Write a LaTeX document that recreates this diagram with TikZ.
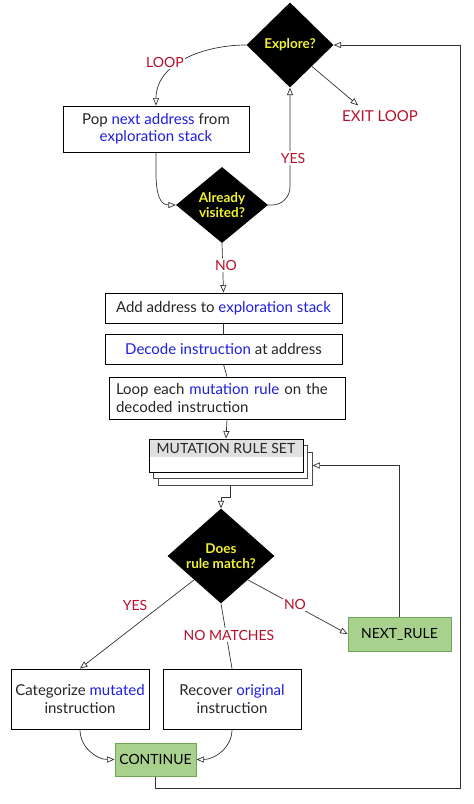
\documentclass[tikz,border=0pt]{standalone}
\usepackage{fontspec}
\setmainfont{Lato}
\usetikzlibrary{arrows}
\usetikzlibrary{shapes.geometric,shadows}
\definecolor{lblred}{HTML}{B8102A}
\definecolor{wordblue}{HTML}{1F1FE0}
\definecolor{askyellow}{HTML}{F2F230}
\definecolor{rulegreen}{HTML}{A9D18E}
\definecolor{rulegreenedge}{HTML}{6FA55A}
\newcommand{\bw}[1]{\textcolor{wordblue}{#1}}

\begin{document}
\begin{tikzpicture}[x=1pt,y=-1pt,
  font=\fontsize{15}{17.5}\selectfont,
  task/.style={draw=black, line width=1pt, fill=white, align=center, inner sep=0pt, text=black!85},
  ask/.style={diamond, fill=black, text=askyellow, align=center, inner sep=0pt, font=\fontsize{13.5}{15.5}\selectfont\bfseries},
  tag/.style={text=lblred, fill=white, inner sep=1.5pt, font=\fontsize{14}{16}\selectfont},
  jump/.style={draw=rulegreenedge, fill=rulegreen, line width=1pt, inner sep=0pt, font=\fontsize{14}{16}\selectfont},
  flow/.style={draw=black!80, line width=.7pt},
  >=open triangle 45]
\useasboundingbox (0,0) rectangle (474,804);
\node[ask, minimum width=87pt, minimum height=85pt] (ex) at (290,45) {Explore?};
\node[task, minimum width=186pt, minimum height=46pt] (pop) at (156,129) {Pop \bw{next address} from\\\bw{exploration stack}};
\node[ask, minimum width=92pt, minimum height=76pt] (av) at (222,205) {Already\\visited?};
\node[text=lblred, font=\fontsize{15}{17}\selectfont, inner sep=0pt] (exit) at (380,116) {EXIT LOOP};
\node[task, minimum width=237pt, minimum height=30pt] (add) at (223.5,308) {Add address to \bw{exploration stack}};
\node[task, minimum width=237pt, minimum height=30pt] (dec) at (223.5,349) {\bw{Decode instruction} at address};
\node[task, minimum width=236pt, minimum height=42pt, text width=222pt, align=left] (each) at (227,398) {Loop each \bw{mutation rule} on the\\decoded instruction};
\node[task, double copy shadow={shadow xshift=4.5pt, shadow yshift=-6.5pt, draw=black!70, fill=white, line width=.7pt},
  minimum width=154pt, text height=12pt, text depth=16pt, inner ysep=2.5pt,
  path picture={\fill[black!12] (path picture bounding box.north west) rectangle ([yshift=-18pt]path picture bounding box.north east);},
  font=\fontsize{14}{16}\selectfont] (mrs) at (226,455.5) {MUTATION RULE SET};
\node[ask, minimum width=107pt, minimum height=93pt] (drm) at (221,556) {Does\\rule match?};
\node[jump, minimum width=103pt, minimum height=34pt] (next) at (399.5,634) {NEXT\_RULE};
\node[task, minimum width=138pt, minimum height=60pt] (cat) at (80,699) {Categorize \bw{mutated}\\instruction};
\node[task, minimum width=138pt, minimum height=60pt] (rec) at (232,699) {Recover \bw{original}\\instruction};
\node[jump, minimum width=81pt, minimum height=33pt] (cont) at (155.5,759.5) {CONTINUE};
\coordinate (corner) at (460,788);

\draw[flow,->] (ex.west) to[out=180,in=90] (pop.north);
\draw[flow,->] (pop.south) to[out=-90,in=180] (av.west);
\draw[flow,->,rounded corners=18pt] (av.east) -| (ex.south);
\draw[flow,->] (ex.south east) -- ([xshift=16pt,yshift=5pt]exit.north west);
\draw[flow,->] (av.south) -- (add.north);
\draw[flow] (add.south) -- (dec.north);
\draw[flow] (dec.south) -- (each.north);
\draw[flow,->] (each.south) -- (mrs.north);
\draw[flow,->] ([xshift=4pt,yshift=-13pt]mrs.south) -- ++(0,12) -| (drm.north);
\draw[flow,->] (drm.south west) -- (cat.north);
\draw[flow] (drm.south) -- (rec.north);
\draw[flow,->] (drm.south east) -- (next.west);
\draw[flow,->] (next.north) |- ([xshift=9pt,yshift=-10pt]mrs.east);
\draw[flow,->] (cat.south) to[out=-90,in=180] (cont.west);
\draw[flow,->] (rec.south) to[out=-90,in=0] (cont.east);
\draw[flow,->] (cont.south) |- (corner) |- (ex.east);

\node[tag] (loop) at (165,62) {LOOP};
\node[tag] (yes1) at (293,158) {YES};
\node[tag] (no1) at (226,265) {NO};
\node[tag] (yes2) at (135,605) {YES};
\node[tag] (nomatch) at (229,635) {NO MATCHES};
\node[tag] (no2) at (295,604) {NO};
\end{tikzpicture}
\end{document}
